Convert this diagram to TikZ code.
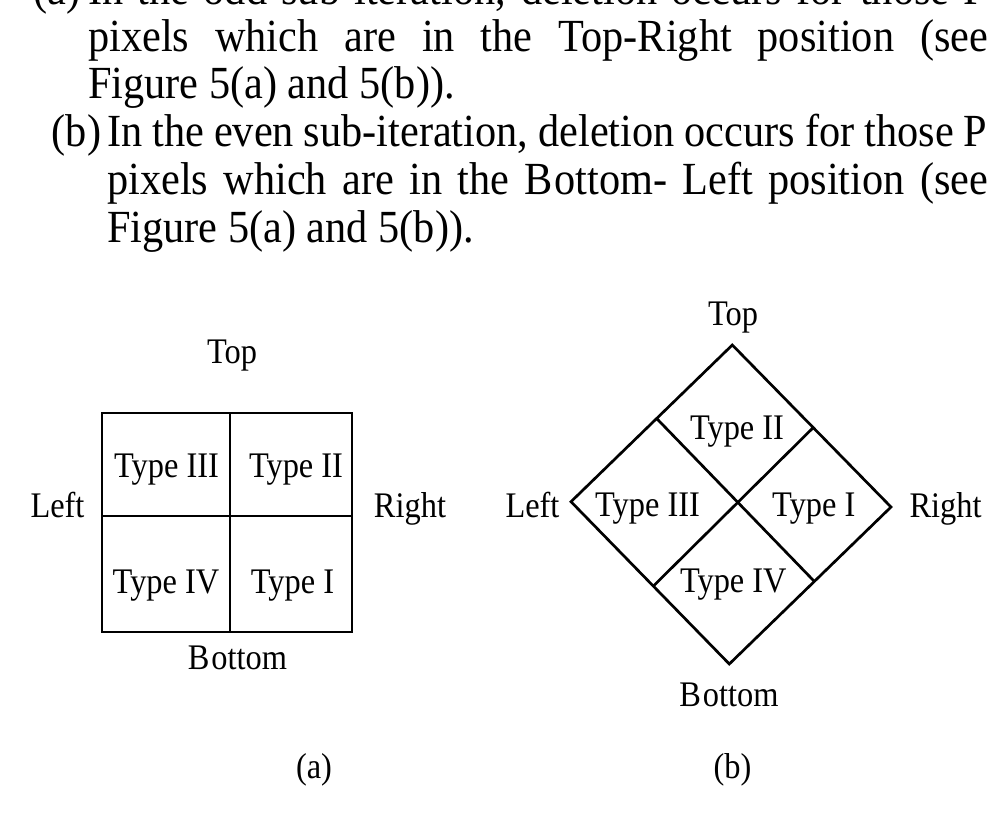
\documentclass[tikz,border=0pt]{standalone}
\usepackage{fontspec}
\setmainfont{Liberation Serif}[FakeStretch=0.92]
\newfontfamily\labfont{Liberation Serif}[FakeStretch=0.9]
\usetikzlibrary{calc}
\tikzset{
  para/.style={inner sep=0pt, anchor=base west, font=\fontsize{46}{48}\selectfont},
  lab/.style={inner sep=0pt, anchor=base, font=\labfont\fontsize{36}{38}\selectfont},
  edge/.style={line width=2.7pt, line join=miter, line cap=rect},
}
\begin{document}
\begin{tikzpicture}[x=1pt,y=-1pt]
\useasboundingbox (0,0) rectangle (993,818);
\clip (0,0) rectangle (993,818);
% paragraph
\node[para] (la) at (33,4.2) {(a)};
\node[para] (l1) at (88,4.2) {\makebox[899pt][s]{In the odd sub-iteration, deletion occurs for those P}};
\node[para] (l2) at (88,51.7) {\makebox[900pt][s]{pixels which are in the Top-Right position (see}};
\node[para] (l3) at (88,99) {Figure 5(a) and 5(b)).};
\node[para] (lb) at (51.7,146.7) {(b)};
\node[para] (l4) at (107,146.7) {\makebox[880pt][s]{In the even sub-iteration, deletion occurs for those P}};
\node[para] (l5) at (107,195) {\makebox[881pt][s]{pixels which are in the B\kern1.5pt ottom- Left position (see}};
\node[para] (l6) at (107,243) {Figure 5(a) and 5(b)).};
% (a) square
\coordinate (sqTL) at (102,413);
\coordinate (sqBR) at (352,632);
\coordinate (sqTM) at (230,413);
\coordinate (sqBM) at (230,632);
\coordinate (sqLM) at (102,516);
\coordinate (sqRM) at (352,516);
\draw[edge] (sqTL) rectangle (sqBR);
\draw[edge] (sqTM) -- (sqBM);
\draw[edge] (sqLM) -- (sqRM);
\node[lab] (aTop) at (232,363) {Top};
\node[lab] (aLeft) at (57.5,517) {Left};
\node[lab] (aRight) at (410,517) {Right};
\node[lab] (aBottom) at (237.5,669) {B\kern2pt ottom};
\node[lab] (a3) at (166.5,477) {Type III};
\node[lab] (a2) at (296,477) {Type II};
\node[lab] (a4) at (166,593) {Type IV};
\node[lab] (a1) at (292.5,593) {Type I};
\node[lab] (capa) at (314,778) {(a)};
% (b) diamond
\coordinate (dT) at (732.3,345);
\coordinate (dL) at (571,501.7);
\coordinate (dR) at (891,507);
\coordinate (dB) at (729.3,664);
\coordinate (dUL) at ($(dT)!0.469!(dL)$);
\coordinate (dUR) at ($(dT)!0.51!(dR)$);
\coordinate (dLL) at ($(dL)!0.52!(dB)$);
\coordinate (dLR) at ($(dR)!0.474!(dB)$);
\draw[edge, line cap=butt] (dT) -- (dR) -- (dB) -- (dL) -- cycle;
\draw[edge, line cap=butt] (dUL) -- (dLR);
\draw[edge, line cap=butt] (dUR) -- (dLL);
\node[lab] (bTop) at (733,325) {Top};
\node[lab] (bLeft) at (532.5,517) {Left};
\node[lab] (bRight) at (945.5,517) {Right};
\node[lab] (bBottom) at (729,706.7) {B\kern2pt ottom};
\node[lab] (b2) at (737,439) {Type II};
\node[lab] (b3) at (647.5,516) {Type III};
\node[lab] (b1) at (813.8,516) {Type I};
\node[lab] (b4) at (733.3,592.3) {Type IV};
\node[lab] (capb) at (732.5,778) {(b)};
\end{tikzpicture}
\end{document}
